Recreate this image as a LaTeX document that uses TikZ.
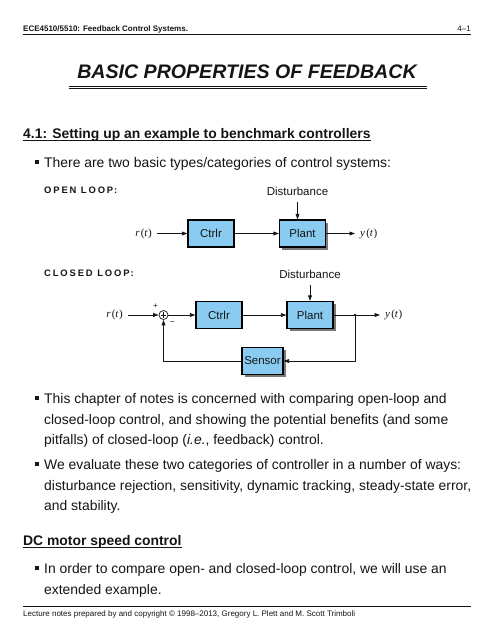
\documentclass[tikz,border=0pt]{standalone}
\usepackage{fontspec}
\setmainfont{Liberation Sans}
\newfontfamily\fbsigfont{Liberation Serif}
\newfontfamily\fbloopfont{Liberation Sans}[LetterSpace=20]
\usepackage{xcolor}
\usepackage{tikz}
\usetikzlibrary{arrows.meta,positioning,shadows}
\definecolor{fbInk}{HTML}{151515}
\definecolor{fbBlock}{HTML}{8ACBF2}
\definecolor{fbShadow}{HTML}{7A7A7A}
\newcommand{\fbsig}[1]{{\fbsigfont\fontsize{11}{12}\selectfont\itshape #1\kern1.2pt\upshape(\itshape t\kern0.6pt\upshape)}}
\tikzset{
  fb page/.style={text=fbInk, line cap=butt},
  fb text/.style={font=\fontsize{13.9}{20.6}\selectfont, anchor=base west, inner sep=0pt},
  fb head/.style={fb text, font=\fontsize{13.9}{20.6}\selectfont\bfseries},
  fb small/.style={font=\fontsize{8}{9}\selectfont, inner sep=0pt},
  fb loop/.style={font=\fbloopfont\fontsize{9.4}{11}\selectfont\bfseries, anchor=base west, inner sep=0pt},
  fb rule/.style={draw=fbInk, line width=0.9pt},
  fb bullet/.style={fill=fbInk, rectangle, minimum size=3.6pt, inner sep=0pt},
  fb box/.style={draw=black, fill=fbBlock, line width=1.2pt, minimum width=46pt,
    minimum height=27pt, inner sep=0pt, font=\fontsize{11.5}{12}\selectfont},
  fb shadow box/.style={fb box, drop shadow={shadow xshift=2.6pt, shadow yshift=-2.6pt,
    fill=fbShadow, opacity=1}},
  fb arrow/.style={-{Triangle[length=5.5pt,width=3.8pt]}, draw=fbInk, line width=0.8pt},
  fb signal/.style={inner ysep=2pt, inner xsep=5pt},
  fb label/.style={font=\fontsize{11.5}{12}\selectfont, inner xsep=0pt, inner ysep=6pt},
  fb sign/.style={font=\fontsize{8}{9}\selectfont, inner sep=0pt},
  fb sum/.style={circle, draw=fbInk, line width=0.7pt, minimum size=9pt, inner sep=0pt,
    path picture={\draw[line width=0.5pt]
      ([xshift=-2.6pt]path picture bounding box.center) -- ([xshift=2.6pt]path picture bounding box.center)
      ([yshift=-2.6pt]path picture bounding box.center) -- ([yshift=2.6pt]path picture bounding box.center);}}
}
\begin{document}
\begin{tikzpicture}[fb page,x=1pt,y=-1pt]
\useasboundingbox[fill=white] (0,0) rectangle (495,640);
\node[fb small, font=\fontsize{8}{9}\selectfont\bfseries, anchor=base west] (runhead) at (23,31) {ECE4510/5510: Feedback Control Systems.};
\node[fb small, anchor=base east] (pageno) at (471,31) {4–1};
\draw[fb rule] (23,34.3) -- (471,34.3);
\node[font=\fontsize{19.6}{22}\selectfont\bfseries\itshape, anchor=base, inner sep=0pt] (title) at (247,78.3) {BASIC PROPERTIES OF FEEDBACK};
\draw[fbInk, line width=0.7pt] (68.5,86) -- (426.5,86) (68.5,88.4) -- (426.5,88.4);
\node[fb head] (sec) at (23,138.3) {4.1: Setting up an example to benchmark controllers};
\draw[fb rule] ([yshift=-2.4pt]sec.base west) -- ([yshift=-2.4pt]sec.base east);
\node[fb bullet] (dot1) at (36.9,161.8) {};
\node[fb text] (line1) at (44,167.2) {There are two basic types/categories of control systems:};
\node[fb loop] (openhd) at (44,193.3) {OPEN LOOP\kern1pt:};
% open loop
\node[fb signal, anchor=east] (or) at (157,233.5) {\fbsig{r}};
\node[fb box] (octrl) at (211,233.5) {Ctrlr};
\node[fb shadow box] (oplant) at (302.5,233.5) {Plant};
\node[fb label, anchor=base] (odist) at (297.5,195.5) {Disturbance};
\node[fb signal, anchor=west] (oy) at (355,233.5) {\fbsig{y}};
\draw[fb arrow] (or.east) -- (octrl);
\draw[fb arrow] (octrl) -- (oplant);
\draw[fb arrow] (oplant) -- (oy.west);
\draw[fb arrow] (odist.south) -- (odist.south |- oplant.north);
\node[fb loop] (closedhd) at (44,276.5) {CLOSED LOOP\kern1pt:};
% closed loop
\node[fb sum] (sum) at (163.5,315) {};
\node[fb signal, anchor=east] (cr) at (128,315) {\fbsig{r}};
\node[fb box] (cctrl) at (219,315) {Ctrlr};
\node[fb shadow box] (cplant) at (310,315) {Plant};
\node[fb label, anchor=base] (cdist) at (310,278.5) {Disturbance};
\node[fb shadow box, minimum width=41pt] (sensor) at (262.5,361) {Sensor};
\coordinate (split) at (355,315);
\node[fb signal, anchor=west] (cy) at (380,315) {\fbsig{y}};
\node[fb sign] (plus) at (155.5,306) {+};
\node[fb sign] (minus) at (172.5,323) {−};
\draw[fb arrow] (cr.east) -- (sum);
\draw[fb arrow] (sum) -- (cctrl);
\draw[fb arrow] (cctrl) -- (cplant);
\draw[fb arrow] (cplant) -- (cy.west);
\draw[fb arrow] (cdist.south) -- (cplant);
\draw[fb arrow] (split) |- (sensor);
\draw[fb arrow] (sensor) -| (sum);
\fill[fbInk] (split) circle[radius=1.4pt];
% notes
\node[fb bullet] (dot2) at (36.9,398) {};
\node[fb text] (line2a) at (44,403.3) {This chapter of notes is concerned with comparing open-loop and};
\node[fb text] (line2b) at (44,424) {closed-loop control, and showing the potential benefits (and some};
\node[fb text] (line2c) at (44,444.7) {pitfalls) of closed-loop (\textit{i.e.}, feedback) control.};
\node[fb bullet] (dot3) at (36.9,464) {};
\node[fb text] (line3a) at (44,469.3) {We evaluate these two categories of controller in a number of ways:};
\node[fb text] (line3b) at (44,490) {disturbance rejection, sensitivity, dynamic tracking, steady-state error,};
\node[fb text] (line3c) at (44,510.7) {and stability.};
\node[fb head] (dcsec) at (23,545) {DC motor speed control};
\draw[fb rule] ([yshift=-2.6pt]dcsec.base west) -- ([yshift=-2.6pt]dcsec.base east);
\node[fb bullet] (dot4) at (36.9,568) {};
\node[fb text] (line4a) at (44,573.3) {In order to compare open- and closed-loop control, we will use an};
\node[fb text] (line4b) at (44,594) {extended example.};
\draw[fb rule, line width=0.8pt] (23,606.7) -- (471,606.7);
\node[fb small, anchor=base west] (footer) at (23,616.5) {Lecture notes prepared by and copyright © 1998–2013, Gregory L. Plett and M. Scott Trimboli};
\end{tikzpicture}
\end{document}
